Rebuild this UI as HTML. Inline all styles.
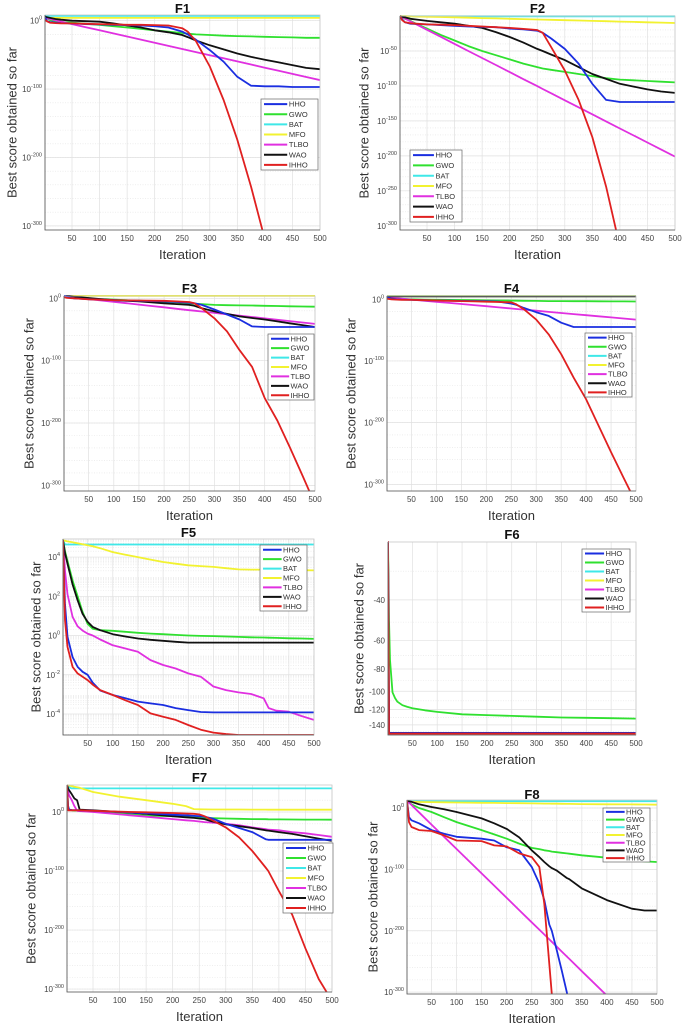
<!DOCTYPE html>
<html><head><meta charset="utf-8"><style>
html,body{margin:0;padding:0;background:#fff;}
svg{display:block;font-family:"Liberation Sans",Arial,sans-serif;}
</style></head><body>
<svg id="fig" width="685" height="1023" viewBox="0 0 685 1023" xmlns="http://www.w3.org/2000/svg"></svg>
<script>
// ---- shared series metadata ----
const seriesNames = ["HHO","GWO","BAT","MFO","TLBO","WAO","IHHO"];
const seriesColors = ["#1a2ee0","#2fe02f","#3fe8e8","#f2f230","#e030e0","#111111","#e02020"];
const drawOrder = [2,3,1,4,5,0,6];

// ---- F1 (log10 values) ----
const f1Iter = [1,5,10,20,30,50,75,100,125,150,175,200,225,250,260,275,300,325,350,375,400,425,450,475,500];
const f1HHO = [5,-1,-2,-3,-3.5,-4,-5,-5.5,-6,-6.5,-7,-8,-10,-16,-20,-28,-43,-60,-82,-95,-96,-96,-97,-97,-97];
const f1GWO = [6,3,1,-1,-2,-3,-4.5,-6,-8,-10,-12,-14,-16,-18,-19,-20,-21,-22,-22.5,-23,-23.5,-24,-24.5,-25,-25];
const f1BAT = [7,7,7,7,7,7,7,7,7,7,7,7,7,7,7,7,7,7,7,7,7,7,7,7,7];
const f1MFO = [4,4,4,4,4,4,4,4,4,4,4,4,4,4,4,4,4,4,4,4,4,4,4,4,4];
const f1TLBO = [4,3.3,2.4,0.5,-1.3,-5,-9.5,-14,-18.6,-23.2,-27.7,-32.3,-36.8,-41.4,-43.2,-45.9,-50.5,-55,-59.6,-64.1,-68.7,-73.2,-77.8,-82.3,-86.9];
const f1WAO = [6,5,4,2.5,1.5,0,-0.8,-1.5,-4,-7,-10,-14,-17,-21,-24,-29,-36,-42,-48,-53,-57,-61,-65,-69,-71];
const f1IHHO = [1,-1,-3,-3.5,-3.8,-4,-4.5,-5,-5.5,-6,-6,-6.5,-7,-11,-16,-30,-67,-116,-174,-243,-320,-400,-480,-560,-640];

// ---- F2 ----
const f2Iter = [1,5,10,20,30,50,75,100,125,150,175,200,225,250,260,275,300,325,350,375,400,425,450,475,500];
const f2HHO = [0,-5,-9,-11,-11.5,-12,-13,-14,-15,-15.5,-16,-18,-19,-21,-24,-32,-47,-68,-97,-120,-123,-123,-123,-123,-123];
const f2GWO = [0,-2,-4,-7,-11,-18,-27,-35,-43,-50,-56,-62,-68,-73,-75,-77,-80,-83,-86,-89,-91,-92,-93,-94,-95];
const f2BAT = [-0.5,-0.5,-0.5,-0.5,-0.5,-0.5,-0.5,-0.5,-0.5,-0.5,-0.5,-0.5,-0.5,-0.5,-0.5,-0.5,-0.5,-0.5,-0.5,-0.5,-0.5,-0.5,-0.5,-0.5,-0.5];
const f2MFO = [0,-0.2,-0.3,-0.5,-0.7,-1,-1.5,-2,-2.5,-3,-3.5,-4,-4.5,-5,-5.2,-5.5,-6,-6.5,-7,-7.5,-8,-8.5,-9,-9.5,-10];
const f2TLBO = [0,-1.6,-3.6,-7.7,-11.7,-19.7,-29.8,-39.9,-50,-60,-70.1,-80.2,-90.3,-100.3,-104.4,-110.4,-120.5,-130.6,-140.6,-150.7,-160.8,-170.9,-180.9,-191,-201.1];
const f2WAO = [0,-1,-2,-4,-5,-7,-9,-11,-14,-17,-23,-30,-38,-47,-50,-55,-63,-73,-83,-90,-97,-101,-105,-108,-110];
const f2IHHO = [0,-6,-9,-10.5,-11,-12,-12.5,-13,-14,-15,-16,-17,-18.5,-20,-24,-44,-78,-120,-173,-244,-330,-400,-450,-500,-550];

// ---- F3 ----
const f3Iter = [1,5,10,20,30,50,75,100,125,150,175,200,225,250,260,275,300,325,350,375,400,425,450,475,500];
const f3HHO = [5,3,1.5,0,-0.5,-1.5,-2.2,-3,-3.5,-4,-4.5,-5,-6,-7,-8,-10.5,-18,-26,-34,-45,-46,-46,-46,-46,-46];
const f3GWO = [5,4,3,2,1,-0.5,-1.2,-2,-3,-3.8,-4.6,-5.4,-6.5,-8,-8.5,-9.3,-10.5,-11,-11.3,-11.6,-12,-12.4,-12.8,-13.1,-13.4];
const f3BAT = [7,7,7,7,7,7,7,7,7,7,7,7,7,7,7,7,7,7,7,7,7,7,7,7,7];
const f3MFO = [4,4,4,4,4,4,4,4,4,4,4,4,4,4,4,4,4,4,4,4,4,4,4,4,4];
const f3TLBO = [3,2.6,2.2,1.3,0.4,-1.3,-3.5,-5.7,-7.9,-10.1,-12.3,-14.5,-16.8,-19,-19.8,-21.2,-23.4,-25.6,-27.8,-30,-32.2,-34.4,-36.6,-38.8,-41];
const f3WAO = [6,5,4,3,2,0.5,-1.2,-3,-4,-5,-6.5,-8,-9.3,-10.5,-12,-16,-21,-25,-29,-31.5,-34,-37,-40,-43,-46];
const f3IHHO = [2,1,0.5,0,-0.5,-1.6,-2.3,-3,-3.3,-3.5,-3.8,-4,-5,-6,-8,-16,-32,-53,-83,-110,-160,-196,-239,-284,-330];

// ---- F4 ----
const f4Iter = [1,5,10,20,30,50,75,100,125,150,175,200,225,250,260,275,300,325,350,375,400,425,450,475,500];
const f4HHO = [3,2,1,0,-0.5,-1,-1.5,-2,-2.3,-2.6,-2.8,-3,-4,-7,-9,-14,-21,-27,-38,-45,-45,-45,-45,-45,-45];
const f4GWO = [5,3,2,1,0.5,0,-0.5,-0.8,-1,-1.2,-1.5,-1.8,-2,-2.2,-2.3,-2.5,-2.7,-2.9,-3,-3.1,-3.2,-3.3,-3.4,-3.5,-3.6];
const f4BAT = [5,5,5,5,5,5,5,5,5,5,5,5,5,5,5,5,5,5,5,5,5,5,5,5,5];
const f4MFO = [5,5,5,5,5,5,5,5,5,5,5,5,5,5,5,5,5,5,5,5,5,5,5,5,5];
const f4TLBO = [3,2.7,2.4,1.6,0.9,-0.5,-2.3,-4.1,-5.9,-7.7,-9.5,-11.3,-13.1,-14.9,-15.7,-16.8,-18.6,-20.4,-22.2,-24,-25.8,-27.6,-29.4,-31.2,-33];
const f4WAO = [4.6,4.6,4.6,4.6,4.6,4.6,4.6,4.6,4.6,4.6,4.6,4.6,4.6,4.6,4.6,4.6,4.6,4.6,4.6,4.6,4.6,4.6,4.6,4.6,4.6];
const f4IHHO = [1,0.5,0,-0.5,-0.8,-1,-1.5,-2,-2.5,-3,-3.5,-4,-4.5,-5,-8,-16,-33,-57,-89,-127,-162,-205,-248,-289,-330];

// ---- F5 ----
const f5Iter = [1,5,10,20,30,40,50,60,75,100,125,150,175,200,225,250,275,300,325,350,375,400,410,425,450,475,500];
const f5HHO = [4.85,1.6,-0.07,-1.1,-1.6,-1.85,-2.0,-2.4,-2.8,-3.03,-3.2,-3.37,-3.46,-3.54,-3.7,-3.8,-3.9,-3.92,-3.92,-3.92,-3.92,-3.92,-3.92,-3.92,-3.92,-3.92,-3.92];
const f5GWO = [4.85,4.3,3.8,2.8,2.0,1.2,0.6,0.35,0.27,0.24,0.19,0.14,0.1,0.07,0.03,0,-0.02,-0.03,-0.05,-0.07,-0.09,-0.1,-0.11,-0.12,-0.14,-0.15,-0.17];
const f5BAT = [4.85,4.64,4.64,4.64,4.64,4.64,4.64,4.64,4.64,4.64,4.64,4.64,4.64,4.64,4.64,4.64,4.64,4.64,4.64,4.64,4.64,4.64,4.64,4.64,4.64,4.64,4.64];
const f5MFO = [4.85,4.83,4.8,4.75,4.7,4.65,4.6,4.55,4.45,4.25,4.12,4.0,3.87,3.75,3.66,3.58,3.54,3.5,3.43,3.37,3.36,3.36,3.35,3.35,3.35,3.33,3.32];
const f5TLBO = [4.85,3.3,2.1,0.95,0.47,0.25,0.1,0,-0.2,-0.5,-0.66,-0.83,-1.25,-1.5,-1.68,-1.93,-2.1,-2.6,-2.78,-2.9,-2.98,-3.2,-3.7,-3.83,-3.88,-4.1,-4.3];
const f5WAO = [4.85,4.2,3.66,2.6,1.8,1.1,0.7,0.44,0.27,0.07,-0.05,-0.15,-0.22,-0.27,-0.32,-0.36,-0.36,-0.36,-0.36,-0.36,-0.36,-0.36,-0.36,-0.36,-0.36,-0.36,-0.36];
const f5IHHO = [4.85,0.78,-0.58,-1.6,-1.93,-2.1,-2.27,-2.5,-2.78,-3.03,-3.3,-3.54,-3.97,-4.14,-4.3,-4.56,-4.8,-4.95,-5.02,-5.07,-5.07,-5.07,-5.07,-5.07,-5.07,-5.07,-5.07];

// ---- F6 (raw values, log-|y| axis) ----
const f6Iter = [1,3,5,10,15,20,30,40,50,75,100,150,200,250,300,350,400,450,500];
const f6HHO = [-22,-152,-152,-152,-152,-152,-152,-152,-152,-152,-152,-152,-152,-152,-152,-152,-152,-152,-152];
const f6GWO = [-22,-49,-73,-101,-107,-111,-115,-117,-118.5,-121,-123,-126,-127,-128,-129,-130,-130.5,-131,-131.5];
const f6BAT = [-22,-152,-152,-152,-152,-152,-152,-152,-152,-152,-152,-152,-152,-152,-152,-152,-152,-152,-152];
const f6MFO = [-22,-152,-152,-152,-152,-152,-152,-152,-152,-152,-152,-152,-152,-152,-152,-152,-152,-152,-152];
const f6TLBO = [-22,-152,-152,-152,-152,-152,-152,-152,-152,-152,-152,-152,-152,-152,-152,-152,-152,-152,-152];
const f6WAO = [-22,-152,-152,-152,-152,-152,-152,-152,-152,-152,-152,-152,-152,-152,-152,-152,-152,-152,-152];
const f6IHHO = [-22,-153,-153,-153,-153,-153,-153,-153,-153,-153,-153,-153,-153,-153,-153,-153,-153,-153,-153];

// ---- F7 ----
const f7Iter = [1,3,5,10,15,20,25,50,100,150,200,225,240,250,260,275,300,325,350,375,380,400,425,450,475,500];
const f7HHO = [46,10,4,3.5,3.3,3.2,3,2,0,-2,-4.6,-5.5,-6.5,-7,-8,-11,-20,-27,-34,-46,-47,-47,-47,-47,-47,-47];
const f7GWO = [46,10,4,3,2.5,2.4,2.3,1.5,-3,-6,-7,-8,-9,-10,-10,-10.5,-11,-11.5,-12,-12.2,-12.3,-12.5,-12.7,-12.8,-12.9,-13];
const f7BAT = [46,44,42,40,40,40,40,40,40,40,40,40,40,40,40,40,40,40,40,40,40,40,40,40,40,40];
const f7MFO = [46,45,45,44,43,42,41,34,26,20,14,10,5,4.6,4.4,4.3,4.2,4.2,4.1,4.1,4,4,4,4,4,4];
const f7TLBO = [46,35,28,20,10,2,1.5,0,-4,-8,-12,-14,-15,-16,-17,-18,-20,-22.5,-26,-29,-30,-31,-34,-36,-39,-42];
const f7WAO = [46,40,37,30,23,20,4,3,0,-3,-7,-9,-10,-11,-12,-16,-21,-24,-27,-31,-31.5,-34,-37,-41,-45,-49];
const f7IHHO = [46,3,3,3,3,3,3,2,0.6,-0.5,-1.7,-2.5,-3,-4,-7,-14,-26,-43,-66,-94,-100,-134,-174,-231,-283,-320];

// ---- F8 ----
const f8Iter = [1,5,10,25,50,75,100,150,175,200,225,250,265,275,285,290,300,310,320,325,350,400,450,475,500];
const f8HHO = [12,-15,-20,-25,-36,-42,-47,-50,-53,-64,-69,-96,-123,-150,-190,-200,-232,-265,-300,-320,-400,-400,-400,-400,-400];
const f8GWO = [12,9,6,0,-6.5,-15,-23,-36,-43,-50,-58,-65,-67,-69,-70,-71,-72,-73,-74,-74.5,-77,-81,-85,-87,-88];
const f8BAT = [11,11,11,11,11,11,11,11,11,11,11,11,11,11,11,11,11,11,11,11,11,11,11,11,11];
const f8MFO = [10,10,10,9.8,9.5,9.2,9,8.5,8.2,8,7.8,7.5,7.3,7.2,7.1,7,6.9,6.8,6.7,6.6,6.4,6,5.8,5.6,5.4];
const f8TLBO = [12,8.8,4.8,-7.1,-27,-46.9,-66.8,-106.6,-126.5,-146.4,-166.3,-186.2,-198.1,-206.1,-214.1,-218,-226,-234,-241.9,-245.9,-265.8,-305.6,-345.4,-365.3,-385.2];
const f8WAO = [12,11,10,6,1.6,-2,-6.5,-17,-25,-34,-48,-69,-80,-88,-95,-98,-102,-108,-114,-116,-131,-150,-164,-167,-167];
const f8IHHO = [12,-23,-31,-36,-37.5,-44.6,-53,-54,-61,-62.5,-74,-80,-96,-156,-254,-303,-330,-360,-400,-400,-400,-400,-400,-400,-400];

// ---- tick values ----
const xTicks = [50,100,150,200,250,300,350,400,450,500];
const f1YTicks = [0,-100,-200,-300];
const f2YTicks = [-50,-100,-150,-200,-250,-300];
const f3YTicks = [0,-100,-200,-300];
const f4YTicks = [0,-100,-200,-300];
const f5YTicks = [4,2,0,-2,-4];
const f6YTicks = [-40,-60,-80,-100,-120,-140];
const f7YTicks = [0,-100,-200,-300];
const f8YTicks = [0,-100,-200,-300];

// ---- layout (not data) ----
const charts = [
 {id:"f1",title:"F1",L:45,R:320,T:15,B:230,top:8.3,bot:-306,iter:f1Iter,ser:[f1HHO,f1GWO,f1BAT,f1MFO,f1TLBO,f1WAO,f1IHHO],yt:f1YTicks,leg:[261,99,57,71],ylx:13,ty:8,minor:20},
 {id:"f2",title:"F2",L:400,R:675,T:16,B:230,top:0,bot:-306,iter:f2Iter,ser:[f2HHO,f2GWO,f2BAT,f2MFO,f2TLBO,f2WAO,f2IHHO],yt:f2YTicks,leg:[410,150,52,72],ylx:365,ty:8,minor:10},
 {id:"f3",title:"F3",L:64,R:315,T:296,B:491,top:3.7,bot:-309,iter:f3Iter,ser:[f3HHO,f3GWO,f3BAT,f3MFO,f3TLBO,f3WAO,f3IHHO],yt:f3YTicks,leg:[268,334,46,66],ylx:30,ty:288,minor:20},
 {id:"f4",title:"F4",L:387,R:636,T:296,B:491,top:5.3,bot:-310.8,iter:f4Iter,ser:[f4HHO,f4GWO,f4BAT,f4MFO,f4TLBO,f4WAO,f4IHHO],yt:f4YTicks,leg:[585,333,47,64],ylx:352,ty:288,minor:20},
 {id:"f5",title:"F5",L:63,R:314,T:539,B:735,top:4.92,bot:-5.07,iter:f5Iter,ser:[f5HHO,f5GWO,f5BAT,f5MFO,f5TLBO,f5WAO,f5IHHO],yt:f5YTicks,leg:[260,545,47,66],ylx:37,ty:532,minor:"dec"},
 {id:"f6",title:"F6",L:388,R:636,T:542,B:735,mode:"abs",top:22.4,bot:155,iter:f6Iter,ser:[f6HHO,f6GWO,f6BAT,f6MFO,f6TLBO,f6WAO,f6IHHO],yt:f6YTicks,leg:[582,549,48,63],ylx:360,ty:534},
 {id:"f7",title:"F7",L:67,R:332,T:785,B:992,top:45.8,bot:-305,iter:f7Iter,ser:[f7HHO,f7GWO,f7BAT,f7MFO,f7TLBO,f7WAO,f7IHHO],yt:f7YTicks,leg:[283,843,50,70],ylx:32,ty:777,minor:20},
 {id:"f8",title:"F8",L:407,R:657,T:800,B:994,top:13,bot:-303,iter:f8Iter,ser:[f8HHO,f8GWO,f8BAT,f8MFO,f8TLBO,f8WAO,f8IHHO],yt:f8YTicks,leg:[603,808,47,54],ylx:374,ty:794,minor:20}
];

const NS = "http://www.w3.org/2000/svg";
const svg = document.getElementById("fig");
function mk(tag, attrs, parent){
  const e = document.createElementNS(NS, tag);
  for (const k in attrs) e.setAttribute(k, attrs[k]);
  (parent||svg).appendChild(e);
  return e;
}
const defs = mk("defs", {});

charts.forEach(c => {
  const g = mk("g", {});
  
  
  const xS = it => c.L + (it - 1) / 499 * (c.R - c.L);
  const yS = c.mode === "abs"
    ? v => c.T + Math.log(Math.abs(v) / c.top) / Math.log(c.bot / c.top) * (c.B - c.T)
    : v => c.T + (c.top - v) / (c.top - c.bot) * (c.B - c.T);

  // background
  const bg = mk("rect", {x:c.L, y:c.T, width:c.R-c.L, height:c.B-c.T, fill:"#fff"}, g);
  
  

  // minor grid
  const minorVals = [];
  if (c.mode === "abs") { [-30,-50,-70,-90,-110,-130,-150].forEach(v=>minorVals.push(v)); }
  else if (c.minor === "dec") {
    for (let d = Math.floor(c.bot); d < c.top; d++) for (let m = 2; m <= 9; m++) minorVals.push(d + Math.log10(m));
  } else {
    for (let v = Math.ceil(c.bot / c.minor) * c.minor; v <= c.top; v += c.minor) minorVals.push(v);
  }
  minorVals.forEach(v => {
    const y = yS(v);
    if (y <= c.T || y >= c.B) return;
    const l = mk("line", {x1:c.L, x2:c.R, y1:y, y2:y, stroke:"#e4e4e4", "stroke-width":0.6, "stroke-dasharray":"1,1.5"}, g);
    
    
  });
  // major grid y
  c.yt.forEach(v => {
    const y = yS(v);
    const l = mk("line", {x1:c.L, x2:c.R, y1:y, y2:y, stroke:"#e0e0e0", "stroke-width":0.7}, g);
    
    
    const t = mk("text", {x:c.L-3, y:y+3, "text-anchor":"end", "font-size":8, fill:"#444"}, g);
    
    
    if (c.mode === "abs") t.textContent = String(v);
    else {
      t.appendChild(document.createTextNode("10"));
      const s = mk("tspan", {dy:-4, "font-size":5.5}, t);
      s.textContent = String(v);
    }
  });
  // x grid + ticks
  xTicks.forEach(v => {
    const x = xS(v);
    const l = mk("line", {x1:x, x2:x, y1:c.T, y2:c.B, stroke:"#e0e0e0", "stroke-width":0.7}, g);
    
    
    const t = mk("text", {x:x, y:c.B+11, "text-anchor":"middle", "font-size":8, fill:"#444"}, g);
    
    
    t.textContent = String(v);
  });

  // clip
  const cp = mk("clipPath", {id:"clip-"+c.id}, defs);
  mk("rect", {x:c.L, y:c.T-1, width:c.R-c.L, height:c.B-c.T+1}, cp);

  const lines = mk("g", {"clip-path":"url(#clip-"+c.id+")"}, g);
  drawOrder.forEach(si => {
    const vals = c.ser[si];
    const pts = vals.map((v,i) => xS(c.iter[i]).toFixed(1) + "," + yS(v).toFixed(1)).join(" ");
    const pl = mk("polyline", {points:pts, fill:"none", stroke:seriesColors[si], "stroke-width":1.8, "stroke-linejoin":"round"}, lines);
    
    
  });

  // axes box
  const box = mk("rect", {x:c.L, y:c.T, width:c.R-c.L, height:c.B-c.T, fill:"none", stroke:"#c8c8c8", "stroke-width":0.8}, g);
  
  
  const ax = mk("path", {d:`M${c.L},${c.T}V${c.B}H${c.R}`, fill:"none", stroke:"#555", "stroke-width":0.8}, g);
  
  

  // title
  const tt = mk("text", {x:(c.L+c.R)/2, y:c.ty+5, "text-anchor":"middle", "font-size":13, "font-weight":"bold", fill:"#111"}, g);
  
  
  tt.textContent = c.title;
  // x label
  const xl = mk("text", {x:(c.L+c.R)/2, y:c.B+29, "text-anchor":"middle", "font-size":13, fill:"#333"}, g);
  
  
  xl.textContent = "Iteration";
  // y label
  const ym = (c.T+c.B)/2;
  const yl = mk("text", {x:c.ylx, y:ym, "text-anchor":"middle", "font-size":13, fill:"#333", transform:`rotate(-90 ${c.ylx} ${ym})`, "dominant-baseline":"middle"}, g);
  
  
  yl.textContent = "Best score obtained so far";

  // legend
  const [lx,ly,lw,lh] = c.leg;
  const lg = mk("g", {}, g);
  
  
  mk("rect", {x:lx, y:ly, width:lw, height:lh, fill:"#fff", stroke:"#666", "stroke-width":0.7}, lg);
  const rh = lh / 7;
  seriesNames.forEach((n, i) => {
    const cy = ly + rh * (i + 0.5);
    const e = mk("g", {}, lg);
    
    
    mk("line", {x1:lx+3, x2:lx+lw*0.46, y1:cy, y2:cy, stroke:seriesColors[i], "stroke-width":2}, e);
    const t = mk("text", {x:lx+lw*0.49, y:cy+2.6, "font-size":7.5, fill:"#333"}, e);
    t.textContent = n;
  });
});
</script>
</body></html>
